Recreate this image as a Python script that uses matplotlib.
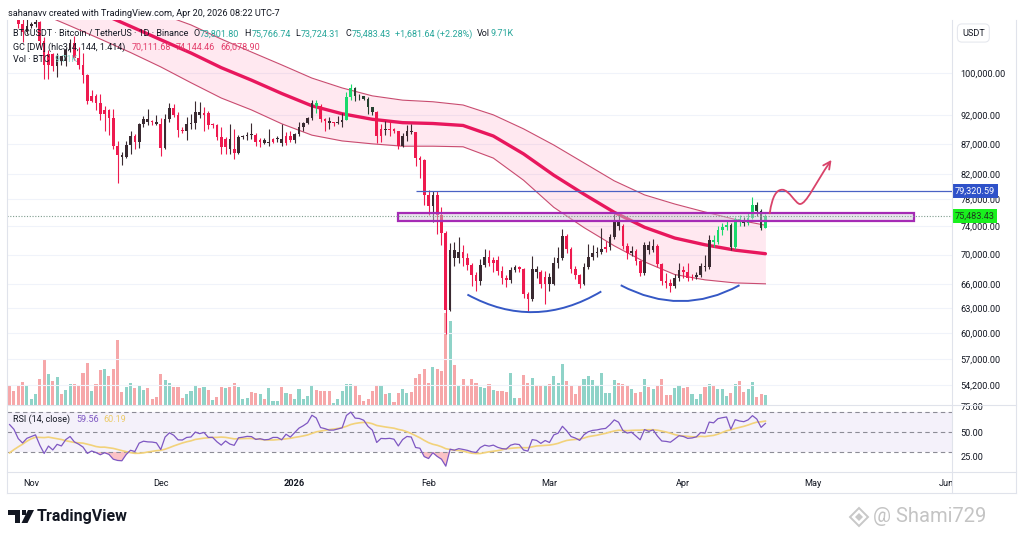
import matplotlib
matplotlib.use("Agg")
import numpy as np
import pandas as pd
import matplotlib.pyplot as plt
from matplotlib.patches import Rectangle, Polygon, FancyArrowPatch, PathPatch
from matplotlib.path import Path
from matplotlib.lines import Line2D
from matplotlib.ticker import FixedLocator, FuncFormatter, NullLocator
from matplotlib.transforms import blended_transform_factory
from matplotlib.colors import to_rgba

plt.rcParams["font.family"] = ["Roboto", "DejaVu Sans"]

# ---- data (prices in thousands of USDT, day 0 = Oct 27 2025) ----
warmup_closes = [115.0, 115.2, 113.0, 110.7, 108.2, 106.4, 107.2, 108.6, 110.5, 108.4,
                 107.5, 110.0, 111.0, 111.6, 114.5]

closes = [
    114.1, 112.9, 110.0, 108.3, 109.6, 110.1, 110.6, 106.5, 101.5, 103.9,
    101.3, 103.3, 102.3, 104.7, 106.0, 103.0, 101.6, 99.7, 94.6, 95.5,
    94.2, 92.2, 92.9, 91.5, 86.6, 85.1, 84.7, 86.8, 88.3, 87.3,
    90.5, 91.3, 90.9, 90.8, 90.4, 86.3, 91.3, 93.4, 92.1, 89.4,
    89.3, 90.4, 90.6, 92.7, 92.0, 92.5, 90.3, 90.3, 88.2, 86.4,
    87.8, 86.2, 85.5, 88.1, 88.3, 88.6, 88.5, 87.4, 87.6, 87.2,
    87.3, 87.8, 87.8, 87.1, 88.4, 87.6, 88.7, 89.9, 90.6, 91.5,
    94.3, 93.7, 91.3, 91.0, 90.6, 90.6, 90.9, 91.2, 95.4, 97.0,
    95.6, 95.5, 95.1, 93.6, 92.6, 88.3, 89.5, 89.4, 89.5, 89.2,
    86.6, 88.3, 89.2, 89.0, 84.6, 84.2, 78.7, 77.0, 78.7, 75.7,
    73.0, 62.8, 70.6, 69.5, 70.3, 69.5, 68.6, 67.2, 66.5, 68.6,
    69.6, 68.9, 69.3, 67.8, 66.9, 66.6, 67.9, 68.3, 68.0, 64.8,
    64.1, 68.0, 67.6, 66.0, 67.0, 66.0, 68.8, 69.5, 72.6, 70.7,
    68.0, 67.2, 66.0, 68.3, 69.6, 70.2, 70.4, 70.8, 71.0, 72.5,
    74.7, 74.0, 71.2, 70.2, 70.5, 69.1, 67.5, 71.3, 70.6, 71.2,
    68.7, 66.4, 66.2, 65.8, 66.8, 67.9, 67.6, 66.9, 67.0, 67.3,
    68.5, 68.3, 72.0, 71.8, 73.5, 73.9, 74.2, 71.0, 75.0, 74.6,
    74.4, 75.2, 77.2, 76.3, 73.80, 75.48,
]
highs = [
    116.0, 116.1, 113.6, 111.6, 111.2, 110.5, 111.2, 110.8, 107.3, 104.6,
    104.0, 104.1, 103.4, 105.0, 107.0, 107.5, 105.3, 104.0, 99.8, 96.8,
    96.0, 96.0, 93.8, 93.1, 93.2, 87.5, 85.6, 87.5, 89.2, 88.7,
    90.6, 91.9, 93.1, 91.2, 92.0, 91.5, 92.2, 94.2, 94.1, 92.7,
    90.0, 91.8, 92.3, 94.6, 94.5, 93.5, 92.8, 90.6, 90.5, 90.0,
    88.2, 90.4, 89.5, 88.5, 88.6, 89.1, 90.6, 88.9, 88.0, 88.0,
    89.5, 88.0, 88.3, 90.4, 89.0, 89.2, 88.9, 90.9, 90.9, 91.8,
    94.8, 94.8, 94.0, 91.6, 91.8, 90.8, 91.9, 92.5, 96.3, 97.9,
    97.2, 95.9, 95.6, 95.4, 93.6, 92.8, 90.4, 91.0, 91.1, 89.8,
    89.2, 88.9, 90.3, 90.5, 89.0, 85.0, 84.4, 79.4, 79.3, 79.3,
    76.9, 73.3, 71.6, 71.8, 72.4, 71.3, 70.2, 68.9, 67.6, 69.4,
    70.8, 70.6, 69.6, 69.8, 68.5, 67.3, 68.3, 68.6, 68.5, 68.2,
    65.0, 69.8, 68.5, 67.9, 67.8, 67.5, 69.6, 71.0, 73.6, 72.9,
    71.1, 68.5, 67.4, 68.8, 71.4, 71.3, 71.0, 73.7, 71.9, 72.9,
    75.8, 75.6, 74.3, 71.6, 71.2, 70.7, 69.3, 71.8, 71.9, 72.1,
    71.4, 68.9, 67.5, 66.7, 67.4, 68.9, 68.5, 68.8, 67.4, 67.6,
    68.9, 69.9, 72.8, 72.8, 74.0, 74.4, 74.9, 74.4, 75.4, 75.6,
    75.3, 76.0, 78.4, 77.6, 76.5, 75.77,
]
lows = [
    113.5, 112.3, 109.2, 106.3, 108.0, 109.2, 109.5, 105.3, 98.9, 98.9,
    100.3, 99.3, 101.5, 101.4, 104.3, 102.5, 100.8, 98.0, 94.0, 94.5,
    93.0, 91.2, 89.3, 88.6, 86.1, 80.6, 83.5, 84.6, 85.3, 86.1,
    86.3, 90.0, 90.2, 90.2, 90.3, 85.0, 86.1, 90.9, 91.8, 88.1,
    88.9, 87.7, 89.6, 89.6, 91.6, 89.3, 89.6, 89.8, 87.6, 85.2,
    85.3, 85.3, 84.4, 85.2, 87.8, 87.6, 87.9, 86.6, 86.4, 86.9,
    86.6, 87.2, 87.4, 86.7, 86.8, 87.3, 87.2, 88.4, 89.3, 90.4,
    91.2, 92.5, 90.8, 89.3, 89.6, 90.1, 90.4, 90.0, 91.1, 94.9,
    94.6, 94.9, 94.8, 92.2, 92.0, 87.2, 87.3, 88.6, 88.4, 88.9,
    86.1, 86.5, 87.5, 88.7, 83.3, 81.4, 77.1, 75.7, 74.6, 72.9,
    71.3, 59.9, 62.6, 68.4, 68.8, 68.4, 67.9, 65.8, 65.1, 65.9,
    68.3, 68.5, 67.6, 67.2, 66.1, 65.7, 66.2, 67.6, 67.6, 64.3,
    62.7, 63.9, 66.9, 65.6, 63.5, 65.2, 65.9, 68.2, 69.3, 70.2,
    67.5, 66.7, 65.6, 65.9, 68.0, 69.3, 69.6, 70.1, 70.4, 70.6,
    72.2, 73.5, 70.8, 69.4, 69.8, 68.6, 67.1, 67.3, 70.1, 70.4,
    68.3, 65.9, 65.6, 65.0, 65.5, 66.5, 66.9, 66.5, 66.6, 66.7,
    67.0, 67.8, 68.1, 71.0, 71.5, 72.8, 73.4, 70.6, 70.8, 74.0,
    74.0, 74.2, 75.0, 75.5, 73.4, 73.72,
]
# volume in thousands of BTC
volumes = [
    19, 14, 19, 23, 19, 6, 11, 26, 45, 31,
    24, 28, 11, 15, 21, 21, 19, 32, 42, 14,
    21, 35, 36, 29, 36, 65, 13, 18, 22, 17,
    19, 15, 17, 6, 8, 31, 25, 22, 18, 18,
    7, 11, 14, 19, 17, 18, 15, 5, 8, 18,
    17, 18, 22, 18, 6, 7, 13, 12, 11, 6,
    17, 4, 4, 18, 12, 11, 6, 16, 6, 9,
    19, 15, 14, 14, 14, 2, 6, 14, 21, 21,
    20, 10, 4, 6, 14, 20, 20, 11, 12, 3,
    12, 16, 12, 13, 27, 31, 36, 22, 38, 36,
    34, 92, 84, 40, 19, 26, 19, 26, 22, 18,
    17, 21, 15, 14, 14, 13, 32, 7, 7, 30,
    22, 27, 19, 19, 20, 21, 29, 22, 41, 24,
    20, 11, 19, 26, 29, 25, 20, 32, 12, 12,
    25, 22, 21, 20, 16, 12, 13, 26, 18, 16,
    19, 26, 10, 10, 17, 20, 17, 18, 11, 6,
    11, 18, 21, 19, 16, 16, 9, 12, 21, 24,
    13, 16, 23, 8, 11, 9.7,
]

# Gaussian channel
gc_days = [0, 7, 14, 21, 28, 35, 42, 49, 56, 63, 70, 77, 84, 91, 98, 105, 112,
           119, 126, 133, 140, 147, 154, 161, 168, 175]
gc_mid = [121.5, 118.5, 115.5, 112.5, 109.6, 106.75, 104.0, 101.05, 98.6, 96.05,
          93.75, 92.3, 91.3, 90.7, 90.55, 90.2, 88.35, 85.3, 81.8, 78.8,
          76.05, 73.85, 72.3, 71.35, 70.6, 70.11]
gc_half = [6.0, 6.0, 5.8, 5.6, 5.5, 5.55, 5.9, 5.85, 5.6, 5.55,
           5.25, 4.8, 4.3, 4.1, 3.95, 3.7, 3.75, 4.3, 5.0, 5.0,
           4.85, 4.85, 5.0, 4.75, 4.4, 4.03]

price_ticks = [54200, 57000, 60000, 63000, 66000, 70000, 74000, 78000, 82000,
               87000, 92000, 100000]
month_labels = ["Nov", "Dec", "2026", "Feb", "Mar", "Apr", "May", "Jun"]
month_days = [5, 35, 66, 97, 125, 156, 186, 217]

last_price = 75483.43
line_price = 79320.59
zone_low, zone_high = 74770, 75950
zone_days = (90, 209.4)
arc_one = [(106, 64700), (121.5, 60200), (137, 65100)]
arc_two = [(141.5, 65900), (155.5, 61900), (169, 65900)]
arrow_pts = [(176.0, 75900), (176.6, 78600), (177.6, 79500), (178.9, 79500),
             (180.5, 79500), (182.0, 77300), (183.0, 77300),
             (184.5, 77300), (186.5, 80500), (190.3, 84300)]

# ---- layout ----
W, H = 1024, 539
fig = plt.figure(figsize=(W / 100, H / 100), dpi=100)
fig.patch.set_facecolor("white")


def fx(px):
    return px / W


def fy(py):
    return 1 - py / H


X0, X1 = 7, 952
XLIM = (-0.6, 218.2)
main_box = [fx(X0), fy(405), fx(X1) - fx(X0), fy(20) - fy(405)]

ax_vol = fig.add_axes(main_box)
ax = fig.add_axes(main_box)
ax.set_facecolor("none")
for a in (ax_vol, ax):
    a.set_xlim(*XLIM)
    for s in a.spines.values():
        s.set_visible(False)
ax_vol.axis("off")
ax_vol.set_ylim(0, 387)

days = np.arange(len(closes))
c = np.array(closes) * 1000
h = np.array(highs) * 1000
lo = np.array(lows) * 1000
o = np.array([warmup_closes[-1]] + closes[:-1]) * 1000

# volume overlay
vcols = ["#8fd3c8" if c[i] >= o[i] else "#f6a7a9" for i in days]
ax_vol.bar(days, volumes, width=0.72, color=vcols, linewidth=0)

# Gaussian channel
gd = np.array(gc_days)
mid = np.array(gc_mid) * 1000
half = np.array(gc_half) * 1000
ax.fill_between(gd, mid - half, mid + half, color="#ff0a5a", alpha=0.09, lw=0, zorder=1)
ax.plot(gd, mid + half, color="#c94c70", lw=0.8, zorder=2)
ax.plot(gd, mid - half, color="#c94c70", lw=0.8, zorder=2)
ax.plot(gd, mid, color="#e8175d", lw=2.4, zorder=2.5, solid_capstyle="round")

# candle colours from the channel's bar colouring
src = (h + lo + c) / 3
mid_at = np.interp(days, gd, mid)
cols = []
for i in days:
    rising = src[i] > src[i - 1] if i > 0 else c[i] > o[i]
    if src[i] > mid_at[i]:
        cols.append("#19d96b" if rising else "#25402f")
    else:
        cols.append("#3a2a31" if rising else "#ee1a4f")

body_lo = np.minimum(o, c)
body_h = np.maximum(np.abs(c - o), 0.0015 * c)
ax.vlines(days, lo, h, colors=cols, lw=0.8, zorder=3.9)
ax.bar(days, body_h, bottom=body_lo, width=0.62, color=cols, linewidth=0, zorder=4)

ax.set_yscale("log")
ax.set_ylim(52080, 110970)
ax.yaxis.set_major_locator(FixedLocator(price_ticks))
ax.yaxis.set_minor_locator(NullLocator())
ax.yaxis.set_major_formatter(FuncFormatter(lambda v, p: f"{v:,.2f}"))
ax.yaxis.tick_right()
ax.tick_params(axis="y", length=0, pad=6, labelsize=6.6, labelcolor="#131722")
ax.set_xticks([])
ax.grid(axis="y", color="#f0f3fa", lw=0.8)
ax.set_axisbelow(True)

# drawings
ax.hlines(line_price, 94, XLIM[1], color="#4a62c4", lw=0.9, zorder=5)
ax.add_patch(Rectangle((zone_days[0], zone_low), zone_days[1] - zone_days[0],
                       zone_high - zone_low, fc=to_rgba("#cfc8d8", 0.45),
                       ec="#a52bb5", lw=1.6, zorder=5))
ax.axhline(last_price, color="#7f9c8e", ls=(0, (1, 1.5)), lw=0.8, zorder=5.5)

for arc in (arc_one, arc_two):
    ax.add_patch(PathPatch(Path(arc, [Path.MOVETO, Path.CURVE3, Path.CURVE3]),
                           fill=False, ec="#3558c5", lw=1.4, zorder=6))

arrow_path = Path(arrow_pts, [Path.MOVETO] + [Path.CURVE4] * 9)
ax.add_patch(FancyArrowPatch(path=arrow_path, arrowstyle="->", mutation_scale=13,
                             color="#d9436a", lw=1.3, transform=ax.transData,
                             zorder=6, shrinkA=0, shrinkB=0))

tr = blended_transform_factory(ax.transAxes, ax.transData)
ax.text(1.003, line_price, f"{line_price:,.2f}", transform=tr, fontsize=6.6,
        color="white", va="center", ha="left", zorder=10, clip_on=False,
        bbox=dict(boxstyle="square,pad=0.28", fc="#2f52c9", ec="none"))
ax.text(1.003, last_price, f"{last_price:,.2f}", transform=tr, fontsize=6.6,
        color="#1f3d1f", va="center", ha="left", zorder=10, clip_on=False,
        bbox=dict(boxstyle="square,pad=0.28", fc="#19f01e", ec="none"))

# ---- RSI pane ----
ax_r = fig.add_axes([fx(X0), fy(472), fx(X1) - fx(X0), fy(405) - fy(472)])
ax_r.set_xlim(*XLIM)
ax_r.set_ylim(10, 77)
for s in ax_r.spines.values():
    s.set_visible(False)

all_closes = pd.Series(warmup_closes + closes)
delta = all_closes.diff()
gain = delta.clip(lower=0).ewm(alpha=1 / 14, adjust=True).mean()
loss = (-delta.clip(upper=0)).ewm(alpha=1 / 14, adjust=True).mean()
rsi_all = 100 - 100 / (1 + gain / loss)
rsi_ma_all = rsi_all.rolling(14).mean()
rsi = rsi_all.iloc[len(warmup_closes):].to_numpy()
rsi_ma = rsi_ma_all.iloc[len(warmup_closes):].to_numpy()

ax_r.axhspan(30, 70, color="#7e57c2", alpha=0.08, lw=0)
for lvl in (70, 50, 30):
    ax_r.axhline(lvl, color="#8c8c96", lw=0.8, ls=(0, (4, 3)))
ax_r.fill_between(days, rsi, 70, where=rsi > 70, interpolate=True, color="#4caf50", alpha=0.25, lw=0)
ax_r.fill_between(days, rsi, 30, where=rsi < 30, interpolate=True, color="#f23645", alpha=0.3, lw=0)
ax_r.plot(days, rsi_ma, color="#f2d27a", lw=1.2)
ax_r.plot(days, rsi, color="#7e57c2", lw=0.9)
ax_r.set_yticks([25, 50, 75])
ax_r.yaxis.set_major_formatter(FuncFormatter(lambda v, p: f"{v:.2f}"))
ax_r.yaxis.tick_right()
ax_r.tick_params(axis="y", length=0, pad=6, labelsize=6.6, labelcolor="#131722")
ax_r.set_xticks([])

# ---- time axis ----
ax_t = fig.add_axes([fx(X0), fy(493), fx(X1) - fx(X0), fy(472) - fy(493)])
ax_t.set_xlim(*XLIM)
ax_t.set_ylim(0, 1)
ax_t.axis("off")
for lab, d in zip(month_labels, month_days):
    ax_t.text(d, 0.45, lab, ha="center", va="center", fontsize=6.6, color="#131722",
              fontweight="bold" if lab == "2026" else "normal", clip_on=True)

# frame lines
frame = "#e0e3eb"
for xs, ys in [((952, 952), (20, 493)), ((7, 1016), (405, 405)), ((7, 1016), (472, 472)),
               ((7, 1016), (493, 493)), ((7, 7), (20, 493)), ((1016, 1016), (20, 493))]:
    fig.add_artist(Line2D([fx(xs[0]), fx(xs[1])], [fy(ys[0]), fy(ys[1])], color=frame, lw=0.8))

fig.text(fx(962), fy(33), "USDT", fontsize=6.6, color="#131722", va="center",
         bbox=dict(boxstyle="round,pad=0.5", fc="white", ec="#e6e8ee", lw=0.8))

# ---- header texts ----
renderer = fig.canvas.get_renderer()


def put_pieces(x_px, y_px, pieces, size=6.5):
    x = x_px
    for txt, col, gap in pieces:
        t = fig.text(fx(x), fy(y_px), txt, color=col, fontsize=size, va="center", ha="left", zorder=20)
        x += t.get_window_extent(renderer=renderer).width + gap


dark = "#131722"
teal = "#26a69a"
crimson = "#e33d6a"
put_pieces(8, 14, [("sahanavv created with TradingView.com, Apr 20, 2026 08:22 UTC-7", dark, 0)], size=6.6)
put_pieces(13, 34, [("BTCUSDT · Bitcoin / TetherUS · 1D · Binance", dark, 5),
                    ("O", dark, 0.5), ("73,801.80", teal, 5),
                    ("H", dark, 0.5), ("75,766.74", teal, 5),
                    ("L", dark, 0.5), ("73,724.31", teal, 5),
                    ("C", dark, 0.5), ("75,483.43", teal, 4),
                    ("+1,681.64 (+2.28%)", teal, 5),
                    ("Vol", dark, 0.5), ("9.71K", teal, 0)])
put_pieces(13, 47, [("GC [DW] (hlc3, 4, 144, 1.414)", dark, 6),
                    ("70,111.68", crimson, 5), ("74,144.46", crimson, 5),
                    ("66,078.90", crimson, 0)])
put_pieces(13, 60, [("Vol · BTC", dark, 5), ("9.71K", "#7fcfc3", 0)])
put_pieces(13, 419, [("RSI (14, close)", dark, 6), ("59.56", "#7e57c2", 5),
                     ("60.19", "#eccb6a", 0)])


# ---- TradingView logo ----
def px_poly(pts, **kw):
    return Polygon([(fx(x), fy(y)) for x, y in pts], closed=True, transform=fig.transFigure, **kw)


fig.add_artist(px_poly([(8, 510), (20, 510), (20, 523), (14.5, 523), (14.5, 515), (8, 515)], fc=dark, ec="none"))
fig.add_artist(px_poly([(21.5, 510), (26, 510), (26, 515), (21.5, 515)], fc=dark, ec="none"))
fig.add_artist(px_poly([(28, 510), (34, 510), (27.5, 523), (21.5, 523)], fc=dark, ec="none"))
fig.text(fx(37), fy(517), "TradingView", fontsize=11.5, fontweight="bold", color=dark, va="center")

# watermark
fig.add_artist(px_poly([(859, 508), (868, 517), (859, 526), (850, 517)], fill=False, ec="#c8c8c8", lw=1.4))
fig.add_artist(px_poly([(859, 513), (863, 517), (859, 521), (855, 517)], fc="#c8c8c8", ec="none"))
fig.text(fx(873), fy(517), "@ Shami729", fontsize=14.5, color="#c4c4c4", va="center")

fig.savefig("out.png", dpi=100, facecolor="white")
